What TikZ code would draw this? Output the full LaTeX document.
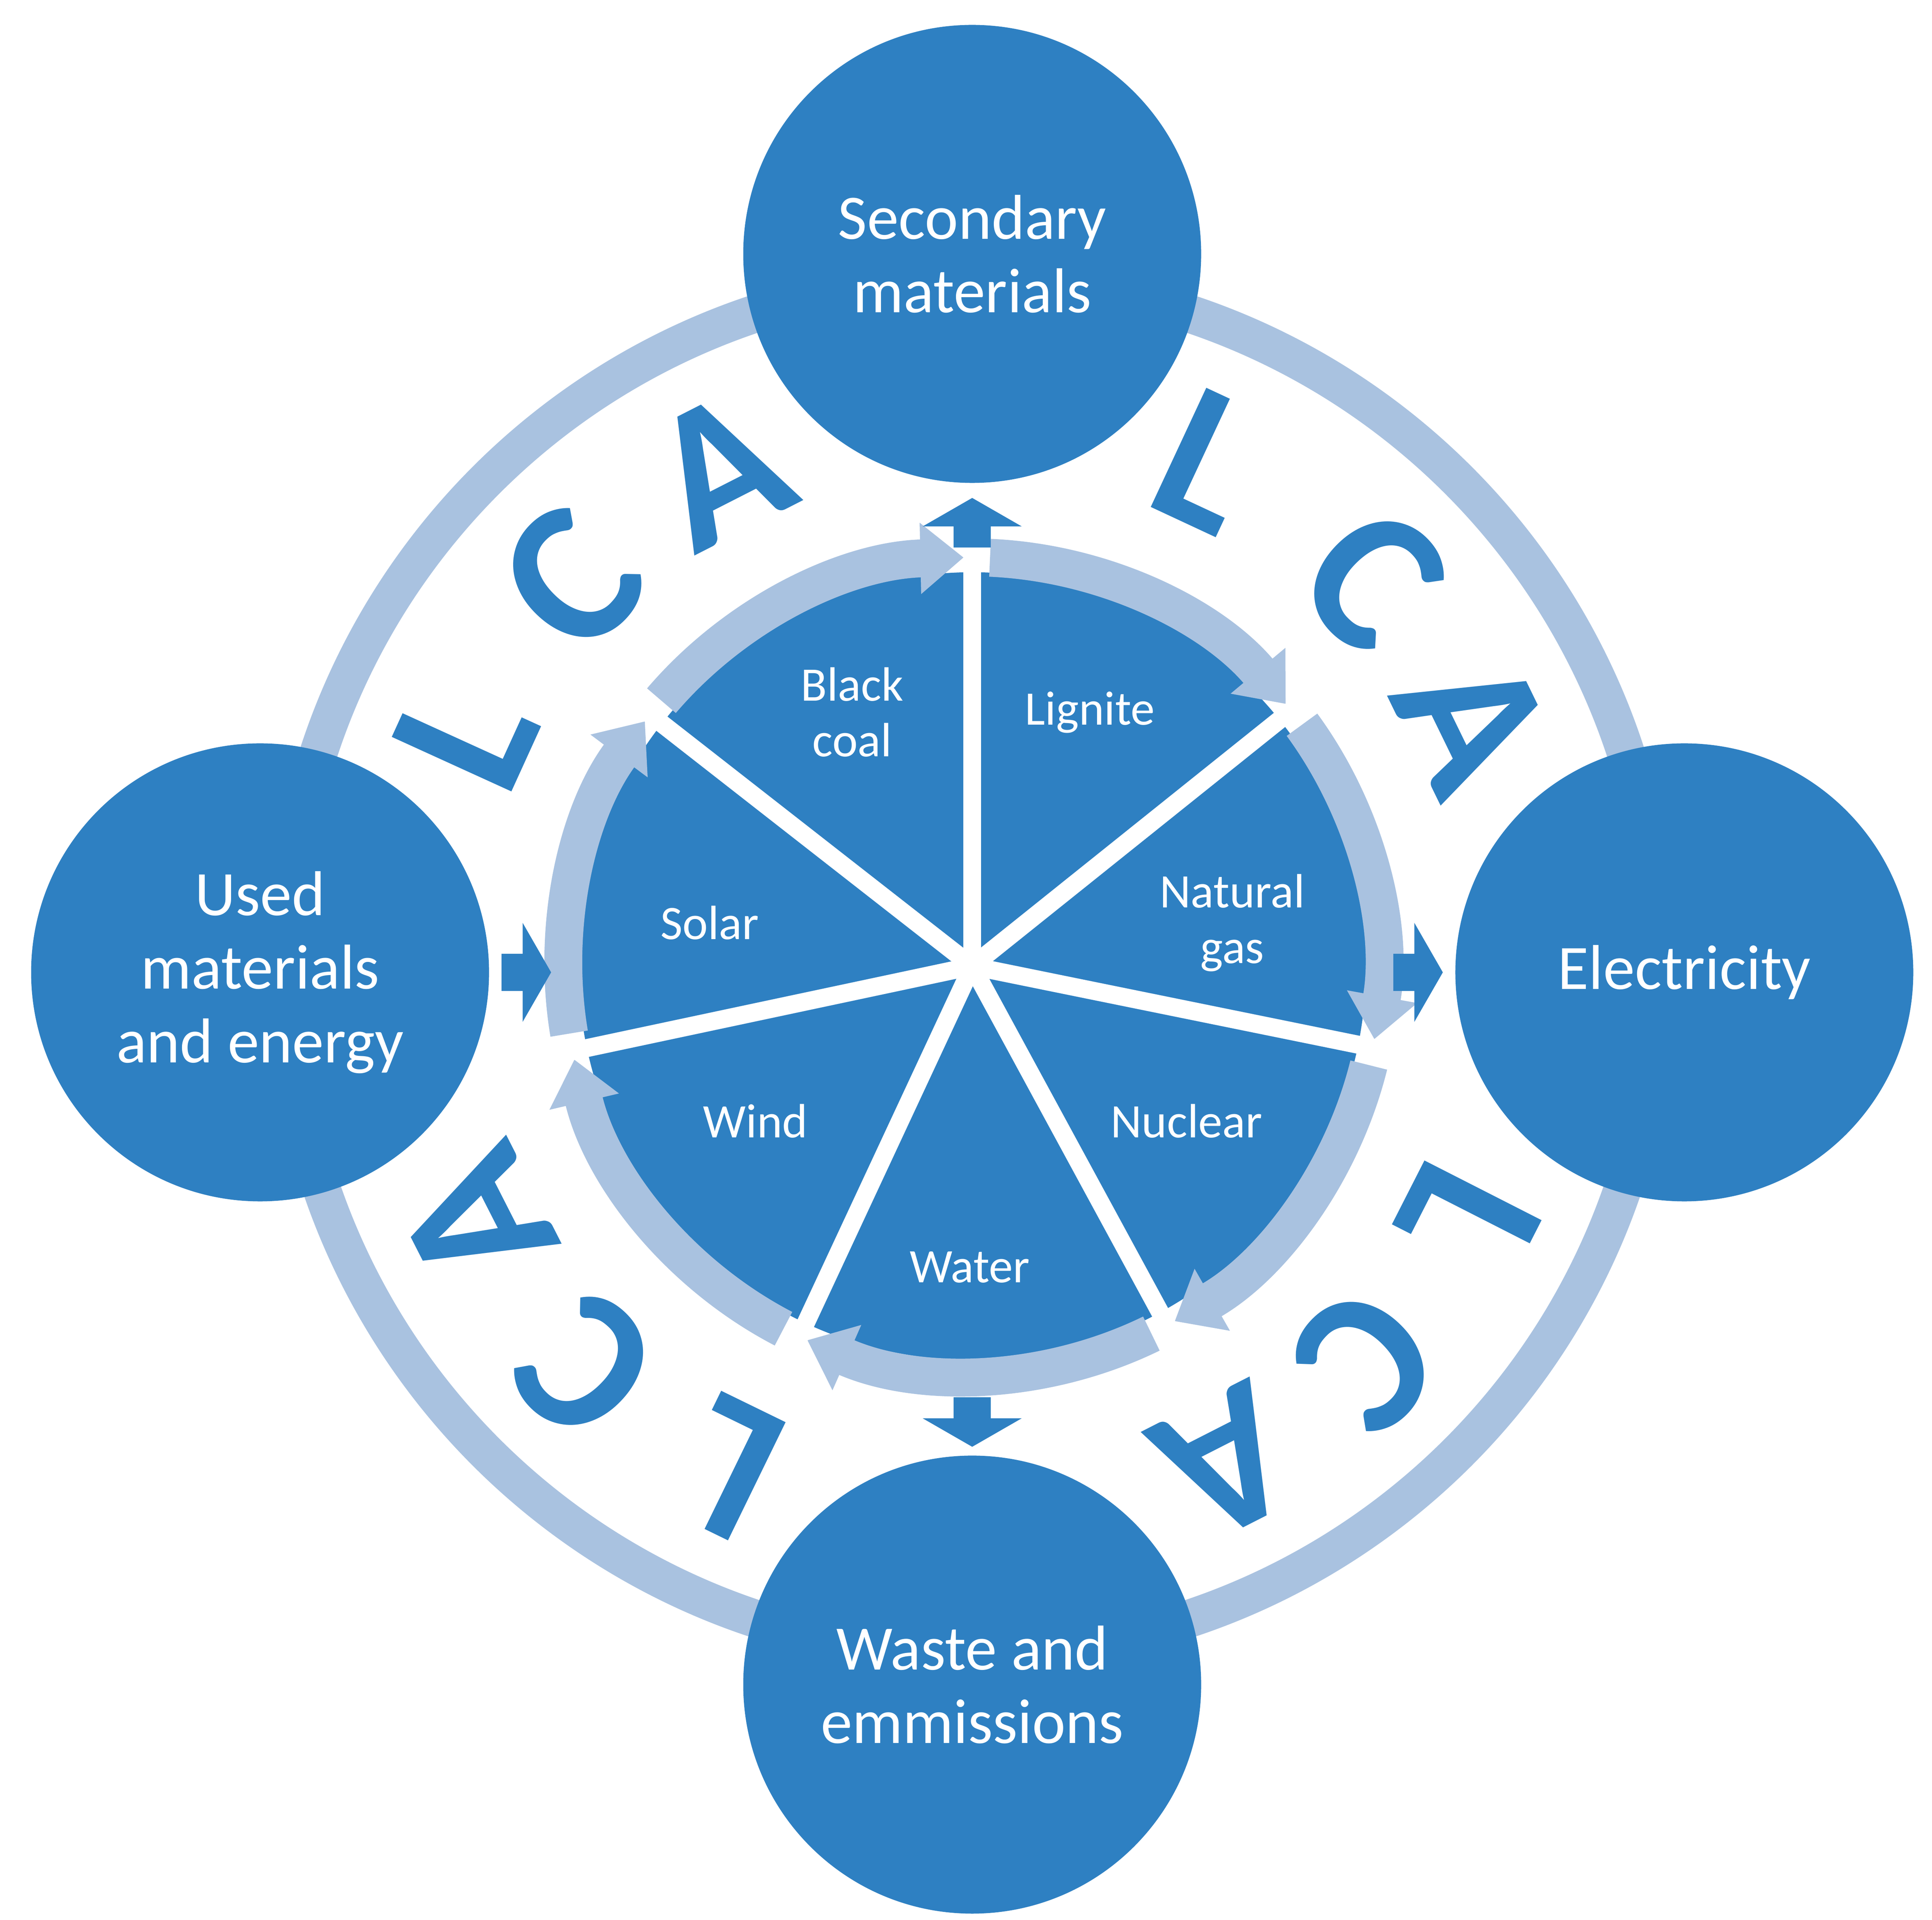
\documentclass[tikz,border=0pt]{standalone}
\usepackage{fontspec}
\setmainfont{Carlito}
\usetikzlibrary{arrows.meta,calc}
\definecolor{db}{HTML}{2E80C2}
\definecolor{lb}{HTML}{A9C2E0}
\begin{document}
\begin{tikzpicture}[x=0.03434cm,y=0.03434cm,
  big/.style={circle,fill=db,minimum size=12.7cm,text=white,align=center,font=\fontsize{50}{58}\selectfont},
  pl/.style={text=white,align=center,font=\fontsize{38}{44}\selectfont},
  lca/.style={text=db,font=\bfseries\fontsize{160}{160}\selectfont},
  ring/.style={lb,line width=1.05cm,-{Triangle[width=1.9cm,length=1.2cm]}},
  blk/.style={fill=db}]
\useasboundingbox[fill=white] (0,0) rectangle (1560,1550);
\coordinate (c) at (785,770);
% outer ring
\draw[lb,line width=1.05cm] (c) circle[radius=555];
% pie
\fill[db] (c) circle[radius=318];
% inner ring arrows
\foreach \a/\b in {90/38.7,38.7/-11.5,-11.5/-61.5,-61.5/-115,-115/-168,-168/-218,142/90}{
  \draw[ring] (c) ++(\a-2.5:330) arc[start angle=\a-2.5,end angle=\b+1.2,radius=330];
}
% spokes
\foreach \a in {90,38.7,-11.5,-61.5,-115,-168,142}{
  \draw[white,line width=0.5cm] (c) -- ++(\a:348);
}
% pie labels
\node[pl] (bc) at (688,975) {Black\\coal};
\node[pl] (lig) at (880,975) {Lignite};
\node[pl] (ng) at (995,805) {Natural\\gas};
\node[pl] (nuc) at (958,645) {Nuclear};
\node[pl] (wat) at (783,527) {Water};
\node[pl] (win) at (610,645) {Wind};
\node[pl] (sol) at (573,805) {Solar};
% big circles
\node[big] (sec) at (785,1345) {Secondary\\materials};
\node[big] (ele) at (1360,765) {Electricity};
\node[big] (was) at (785,190) {Waste and\\emmissions};
\node[big] (use) at (210,765) {Used\\materials\\and energy};
% block arrows
\def\blkshape{(-15,0)--(-15,17)--(-40,17)--(0,40)--(40,17)--(15,17)--(15,0)--cycle}
\fill[blk,shift={(785,1108)}] \blkshape;
\fill[blk,shift={(1125,765)},rotate=-90] \blkshape;
\fill[blk,shift={(785,422)},rotate=180] \blkshape;
\fill[blk,shift={(405,765)},rotate=-90] \blkshape;
% LCA letters
\foreach \ang/\l [count=\i] in {155.5/L,136/C,117/A,65/L,44/C,26/A,-27/L,-45/C,-63/A,-116/L,-134/C,-153/A}{
  \node[lca,rotate=\ang-90] (lca\i) at ($(c)+(\ang:450)$) {\l};
}
\end{tikzpicture}
\end{document}
